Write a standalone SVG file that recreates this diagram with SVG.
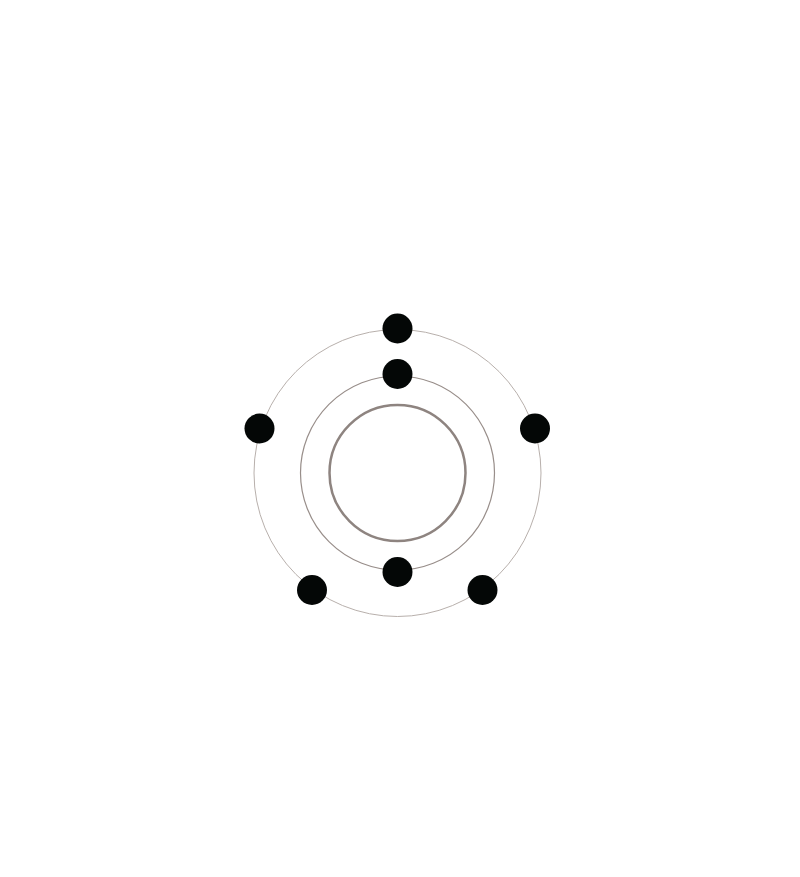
<svg xmlns="http://www.w3.org/2000/svg" width="800" height="877" viewBox="0 0 800 877">
<style>
.ring{fill:none}
.dot{fill:#040706}
</style>
<rect width="800" height="877" fill="#ffffff"/>
<g id="connectors">
<circle id="outer-ring" class="ring" cx="397.5" cy="473" r="143.5" stroke="#b8b0ac" stroke-width="1"/>
<circle id="middle-ring" class="ring" cx="397.5" cy="473" r="97" stroke="#988e8a" stroke-width="1.2"/>
<circle id="inner-ring" class="ring" cx="397.5" cy="473" r="68" stroke="#8e8480" stroke-width="2.5"/>
</g>
<g id="dot-outer-top"><circle class="dot" cx="397.5" cy="328.5" r="15"/></g>
<g id="dot-middle-top"><circle class="dot" cx="397.5" cy="374" r="15"/></g>
<g id="dot-middle-bottom"><circle class="dot" cx="397.5" cy="572" r="15"/></g>
<g id="dot-outer-left"><circle class="dot" cx="259.5" cy="428.5" r="15"/></g>
<g id="dot-outer-right"><circle class="dot" cx="535" cy="428.5" r="15"/></g>
<g id="dot-outer-bottom-left"><circle class="dot" cx="312" cy="590" r="15"/></g>
<g id="dot-outer-bottom-right"><circle class="dot" cx="482.5" cy="590" r="15"/></g>
</svg>
